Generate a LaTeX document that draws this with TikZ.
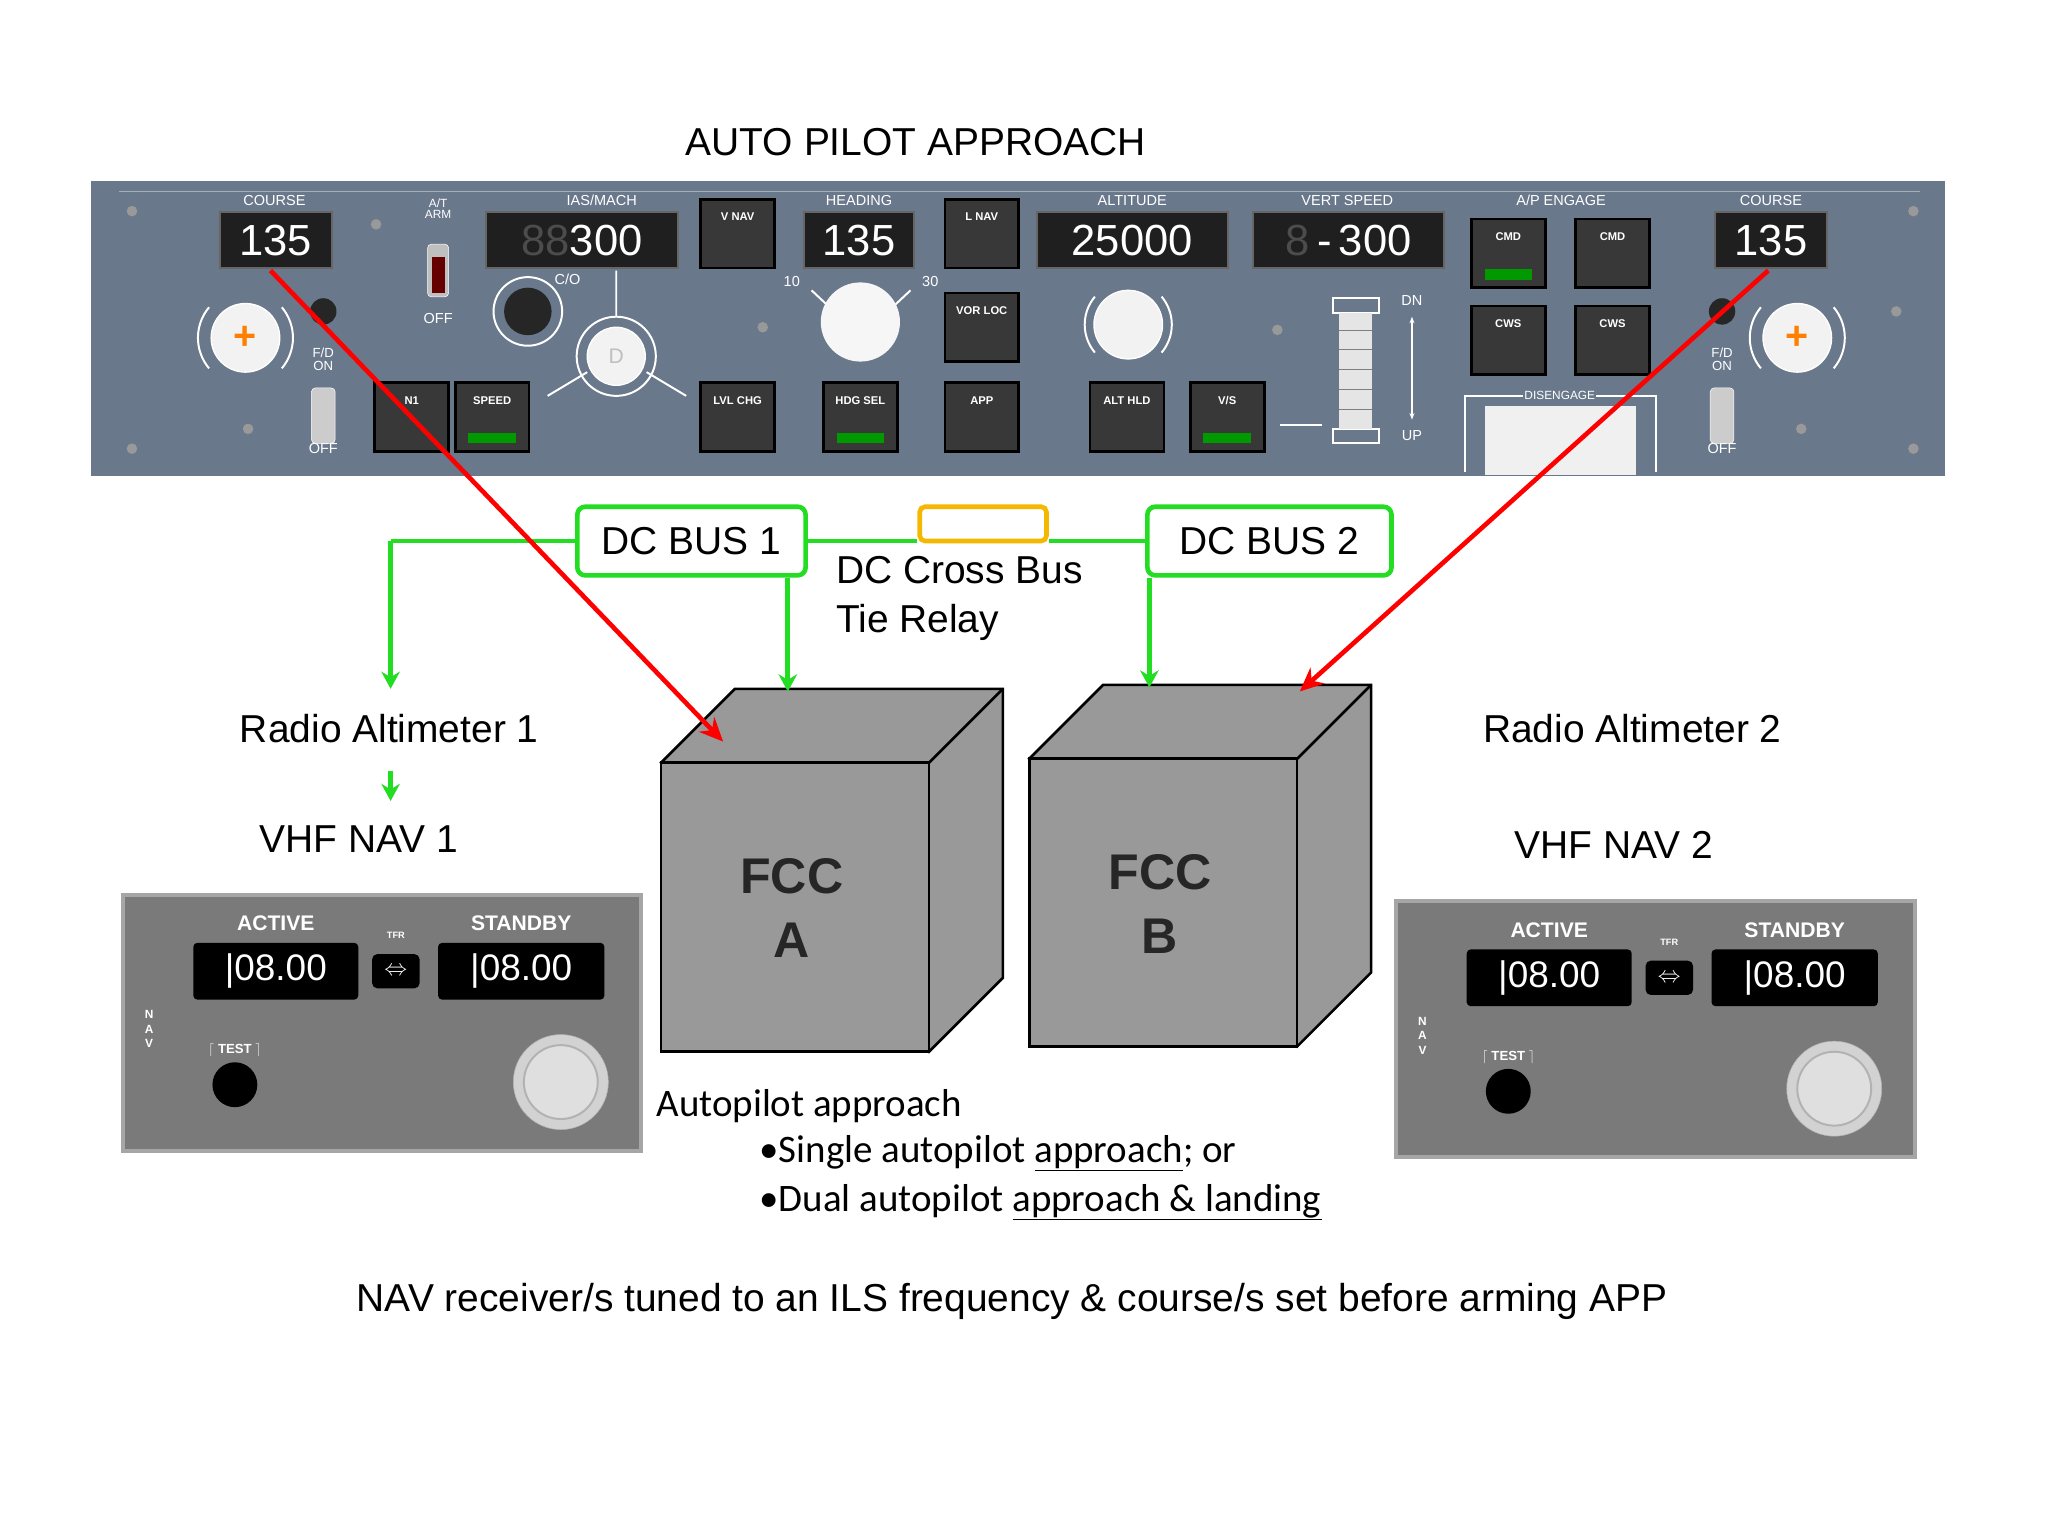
\documentclass[tikz,border=0pt]{standalone}
\usepackage{fontspec}
\setmainfont{Liberation Sans}
\newfontfamily\calfont{Carlito}
\usetikzlibrary{arrows.meta}
\definecolor{panel}{HTML}{6A788C}
\definecolor{gline}{HTML}{22DD22}
\definecolor{relay}{HTML}{F5B800}
\definecolor{vhf}{HTML}{7A7A7A}
\begin{document}
\begin{tikzpicture}[x=1pt,y=-1pt,
  disp/.style={fill=black!88,draw=black!60,line width=1.5,minimum height=42,inner sep=0,text=white,font=\fontsize{33}{33}\selectfont},
  btn/.style={fill=black!78,draw=black,line width=2,minimum width=56,minimum height=52,inner sep=0},
  blab/.style={text=white,font=\fontsize{8.5}{8.5}\selectfont\bfseries},
  plab/.style={text=white!85,font=\fontsize{11}{11}\selectfont},
  knob/.style={fill=white!90!gray,draw=white!70,line width=1},
  lab/.style={font=\fontsize{29.5}{36}\selectfont},
  gl/.style={gline,line width=3.5},
  garr/.style={gl,-{Stealth[length=13,width=14]}},
  rarr/.style={red,line width=3.5,-{Stealth[length=18,width=16]}},
  bus/.style={draw=gline,line width=3.5,rounded corners=6,minimum width=173,minimum height=52,font=\fontsize{29.5}{30}\selectfont},
  fcc/.style={fill=gray!80,draw=black,line width=2},
  vdisp/.style={fill=black,rounded corners=3,minimum width=125,minimum height=43,inner sep=0,text=white,font=\fontsize{28}{28}\selectfont},
  vlab/.style={text=white!85,font=\fontsize{16}{16}\selectfont\bfseries}
]
\useasboundingbox (0,0) rectangle (1552,1164);
\fill[white] (0,0) rectangle (1552,1164);
\node[lab] (title) at (694,108) {AUTO PILOT APPROACH};
% ---------- MCP panel
\fill[panel] (69,137) rectangle (1474,361);
\draw[white!40!panel,line width=1] (90,145) -- (1455,145);
\foreach \p in {(100,160),(100,340),(1450,160),(1450,340),(285,170),(188,325),(578,248),(968,250),(1437,236),(1365,325)}
  \fill[black!40] \p circle (4);
% labels
\node[plab] (lc1) at (208,152) {COURSE};
\node[plab,align=center,font=\fontsize{9}{8}\selectfont] (lat) at (332,158) {A/T\\ARM};
\node[plab] (loff) at (332,241) {OFF};
\node[plab] (lias) at (456,152) {IAS/MACH};
\node[plab] (lhdg) at (651,152) {HEADING};
\node[plab] (lalt) at (858,152) {ALTITUDE};
\node[plab] (lvs) at (1021,152) {VERT SPEED};
\node[plab] (lap) at (1183,152) {A/P ENGAGE};
\node[plab] (lc2) at (1342,152) {COURSE};
\node[plab] (l10) at (600,213) {10};
\node[plab] (l30) at (705,213) {30};
\node[plab] (lco) at (430,212) {C/O};
\node[plab] (ldn) at (1070,228) {DN};
\node[plab] (lup) at (1070,330) {UP};
\node[plab,align=center,font=\fontsize{10}{10}\selectfont] (lfd1) at (245,272) {F/D\\ON};
\node[plab] (lof1) at (245,340) {OFF};
\node[plab,align=center,font=\fontsize{10}{10}\selectfont] (lfd2) at (1305,272) {F/D\\ON};
\node[plab] (lof2) at (1305,340) {OFF};
% displays
\node[disp,minimum width=85,text=white] (dc1) at (209,182) {135};
\node[disp,minimum width=146] (dias) at (441,182) {\textcolor{black!70}{88}300};
\node[disp,minimum width=84] (dhdg) at (651,182) {135};
\node[disp,minimum width=145] (dalt) at (858,182) {25000};
\node[disp,minimum width=145] (dvs) at (1022,182) {\textcolor{black!70}{8}\,-\,300};
\node[disp,minimum width=85] (dc2) at (1342,182) {135};
% buttons
\foreach \n/\x/\y/\t/\g in {bvn/559/177/V NAV/0, bln/744/177/L NAV/0, bvor/744/248/VOR LOC/0,
   bn1/312/316/N1/0, bspd/373/316/SPEED/1, blvl/559/316/LVL CHG/0, bhsel/652/316/HDG SEL/1,
   bapp/744/316/APP/0, balt/854/316/ALT HLD/0, bvs/930/316/{V/S}/1,
   bcmda/1143/192/CMD/1, bcmdb/1222/192/CMD/0, bcwsa/1143/258/CWS/0, bcwsb/1222/258/CWS/0}{
  \node[btn] (\n) at (\x,\y) {};
  \node[blab,anchor=north] at ([yshift=-8]\n.north) {\t};
  \ifnum\g=1 \fill[green!60!black] ([xshift=-18,yshift=7]\n.south) rectangle ([xshift=18,yshift=15]\n.south);\fi
}
% knobs
\draw[white!70,line width=1.5] (186,256) ++(140:36) arc (140:220:36) (186,256) ++(-40:36) arc (-40:40:36);
\node[knob,circle,minimum size=52] (kc1) at (186,256) {};
\node[text=orange,font=\fontsize{30}{30}\selectfont\bfseries] at (kc1) {+};
\draw[white!70,line width=1.5] (1362,256) ++(140:36) arc (140:220:36) (1362,256) ++(-40:36) arc (-40:40:36);
\node[knob,circle,minimum size=52] (kc2) at (1362,256) {};
\node[text=orange,font=\fontsize{30}{30}\selectfont\bfseries] at (kc2) {+};
\draw[white!70,line width=1.5] (400,236) circle (26);
\node[circle,fill=black!85,minimum size=36] (kco) at (400,236) {};
\draw[white!70,line width=1.5] (467,205) -- (467,240) (415,300) -- (445,282) (520,300) -- (490,282);
\draw[white!70,line width=1.5] (467,270) circle (30);
\node[knob,circle,minimum size=44,font=\fontsize{16}{16}\selectfont,text=gray!50] (kbank) at (467,270) {D};
\draw[white!70,line width=1.5] (615,220) -- (632,236) (690,220) -- (673,236);
\node[knob,circle,minimum size=60,draw=none,fill=white!93!gray] (khdg) at (652,244) {};
\draw[white!70,line width=1.5] (855,246) ++(140:33) arc (140:220:33) (855,246) ++(-40:33) arc (-40:40:33);
\node[knob,circle,minimum size=52] (kalt) at (855,246) {};
\node[circle,fill=black!85,minimum size=20] (kled1) at (245,236) {};
\node[circle,fill=black!85,minimum size=20] (kled2) at (1305,236) {};
\node[rounded corners=3,fill=gray!50,draw=white!70,minimum width=16,minimum height=40] (tat) at (332,205) {};
\fill[red!40!black] (327,195) rectangle (337,222);
\node[rounded corners=3,fill=gray!40,draw=white!70,minimum width=18,minimum height=42] (tfd1) at (245,315) {};
\node[rounded corners=3,fill=gray!40,draw=white!70,minimum width=18,minimum height=42] (tfd2) at (1305,315) {};
% VS wheel
\draw[white!70,line width=1.5] (1010,226) rectangle (1045,237) (1010,325) rectangle (1045,336) (970,322) -- (1002,322);
\fill[white!80!gray] (1015,237) rectangle (1040,325);
\foreach \yy in {250,265,280,295,310} \draw[gray] (1015,\yy) -- (1040,\yy);
\draw[white!70,line width=1.2,{Stealth[length=5]}-{Stealth[length=5]}] (1070,240) -- (1070,318);
% disengage
\draw[white!70,line width=1.5] (1110,358) -- (1110,300) -- (1255,300) -- (1255,358);
\node[plab,fill=panel,inner sep=1,font=\fontsize{9}{9}\selectfont] (ldis) at (1182,300) {DISENGAGE};
\fill[white!88!gray] (1125,308) rectangle (1240,360);
% ---------- power
\node[bus] (bus1) at (524,410) {DC BUS 1};
\node[bus,minimum width=185] (bus2) at (962,410) {DC BUS 2};
\node[draw=relay,line width=3.5,rounded corners=4,minimum width=96,minimum height=26,inner sep=0] (relay) at (745,397) {};
\node[lab,align=left,anchor=north west,font=\fontsize{29.5}{37}\selectfont] (rlab) at (630,418) {DC Cross Bus\\Tie Relay};
\draw[gl] (bus1.west) -- (296,410) coordinate (c1);
\draw[gl] (bus1.east) -- (relay.south west |- bus1.east);
\draw[gl] (relay.south east |- bus2.west) -- (bus2.west);
\coordinate (ra1top) at (296,522);
\draw[garr] (c1) -- (ra1top);
% FCC boxes
\draw[fcc] (501,578) -- (557,522) -- (760,522) -- (760,741) -- (704,797) -- cycle;
\draw[fcc] (704,578) -- (760,522);
\node[fcc,minimum width=203,minimum height=219,inner sep=0] (fcca) at (602.5,687.5) {};
\node[font=\fontsize{38}{48}\selectfont\bfseries,align=center,text=black!85] at (600,688) {FCC\\A};
\draw[fcc] (780,575) -- (836,519) -- (1039,519) -- (1039,737) -- (983,793) -- cycle;
\draw[fcc] (983,575) -- (1039,519);
\node[fcc,minimum width=203,minimum height=218,inner sep=0] (fccb) at (881.5,684) {};
\node[font=\fontsize{38}{48}\selectfont\bfseries,align=center,text=black!85] at (879,685) {FCC\\B};
\coordinate (fa) at (597,524);
\coordinate (fb) at (871,521);
\draw[garr] (bus1.south -| fa) -- (fa);
\draw[garr] (bus2.south -| fb) -- (fb);
% labels
\node[lab] (ra1) at (295,552) {Radio Altimeter 1};
\node[lab] (vn1) at (272,636) {VHF NAV 1};
\node[lab] (ra2) at (1237,552) {Radio Altimeter 2};
\node[lab] (vn2) at (1223,640) {VHF NAV 2};
\coordinate (g1) at (296,584);
\coordinate (g2) at (296,607);
\draw[garr] (g1) -- (g2);
% red lines
\coordinate (r1) at (205,205);
\coordinate (r2) at (1340,205);
\coordinate (fat) at (548,562);
\coordinate (fbt) at (985,524);
\draw[rarr] (r1) -- (fat);
\draw[rarr] (r2) -- (fbt);
% ---------- VHF panels
\foreach \nm/\dx/\dy in {v1/0/0, v2/965/5}{
\begin{scope}[shift={(\dx,\dy)}]
\node[fill=vhf,draw=gray!70,line width=3,minimum width=393,minimum height=194,inner sep=0] (\nm) at (289.5,775) {};
\node[vlab] at (209,700) {ACTIVE};
\node[vlab] at (395,700) {STANDBY};
\node[vlab,font=\fontsize{7}{7}\selectfont\bfseries] at (300,709) {TFR};
\node[vdisp] (\nm a) at (209,736) {|08.00};
\node[vdisp,minimum width=126] (\nm s) at (395,736) {|08.00};
\node[fill=black,rounded corners=4,minimum width=36,minimum height=26,text=white,inner sep=0,font=\fontsize{18}{18}\selectfont\bfseries] (\nm t) at (300,736) {$\Leftrightarrow$};
\node[vlab,align=center,font=\fontsize{9}{11}\selectfont\bfseries] at (113,780) {N\\A\\V};
\node[vlab,font=\fontsize{10}{10}\selectfont\bfseries] at (178,796) {$\lceil$ TEST $\rceil$};
\fill[black] (178,822) circle (17);
\fill[gray!35,draw=gray!60] (425,820) circle (36);
\draw[gray!60,line width=1.5,fill=gray!25] (425,820) circle (28);
\end{scope}}
% ---------- text
\node[anchor=west,font=\calfont\fontsize{29.5}{30}\selectfont] (ap) at (494,838) {Autopilot approach};
\node[anchor=west,font=\calfont\fontsize{29.5}{30}\selectfont] (b1) at (572,874) {\textbullet Single autopilot \underline{approach}; or};
\node[anchor=west,font=\calfont\fontsize{29.5}{30}\selectfont] (b2) at (572,911) {\textbullet Dual autopilot \underline{approach \& landing}};
\node[lab] (bot) at (767,986) {NAV receiver/s tuned to an ILS frequency \& course/s set before arming APP};
\end{tikzpicture}
\end{document}
